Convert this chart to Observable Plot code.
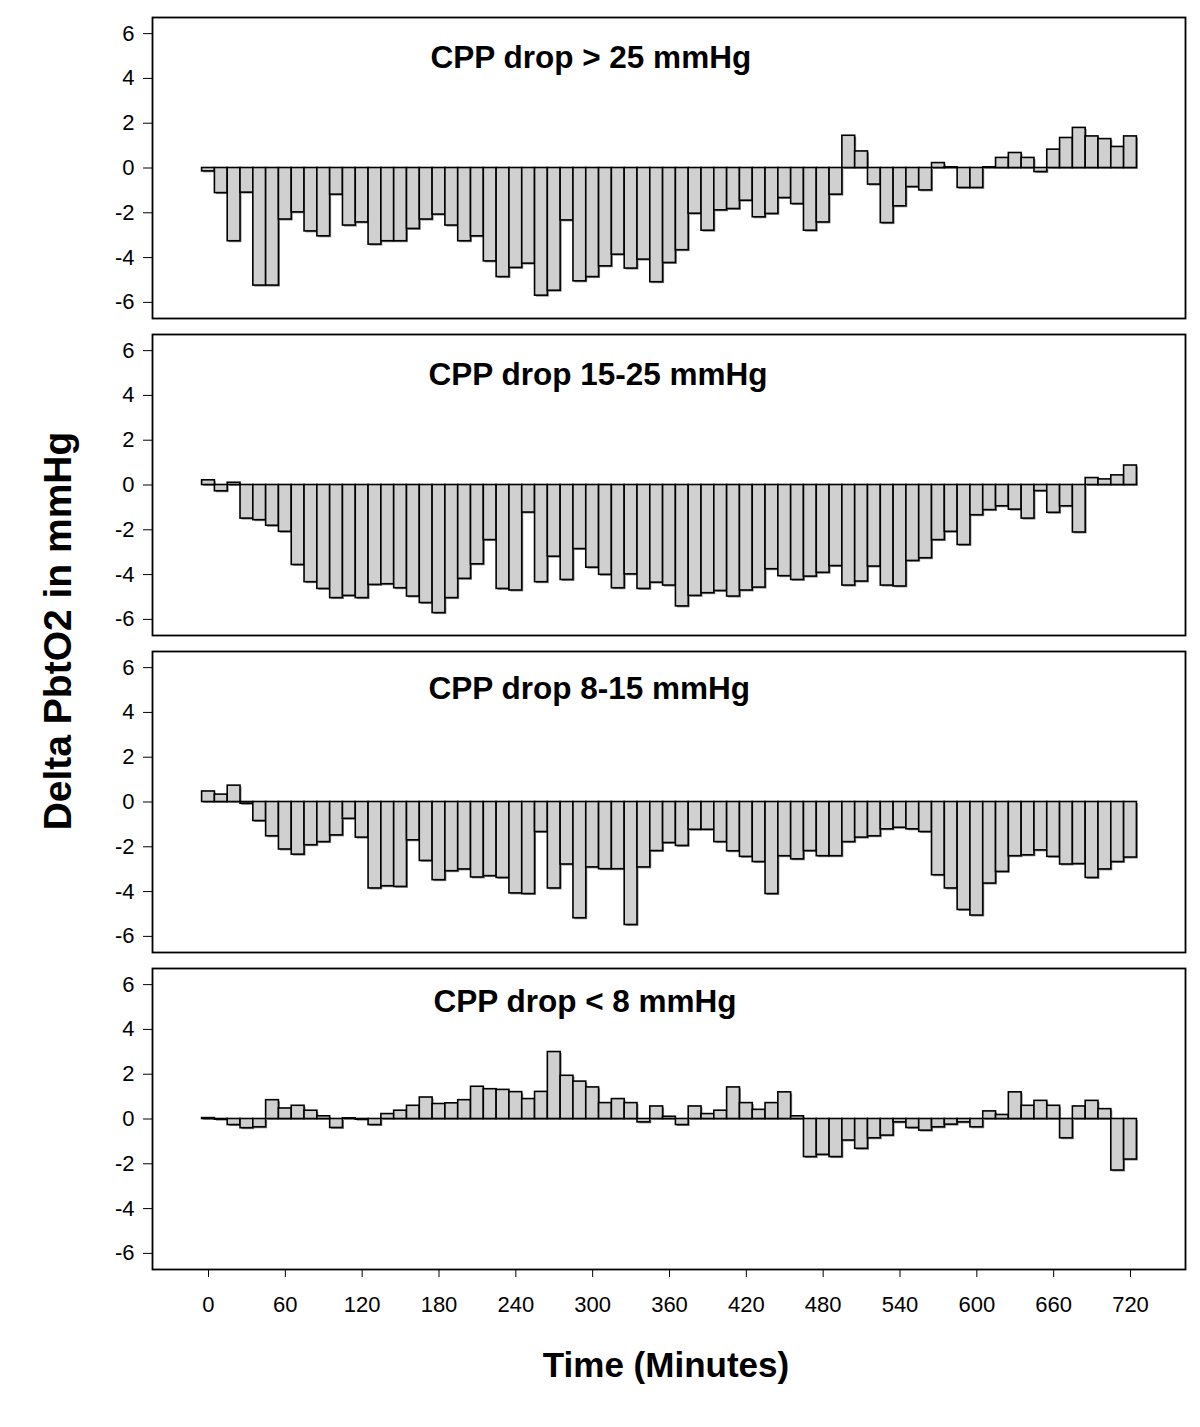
<!DOCTYPE html>
<html>
<head>
<meta charset="utf-8">
<script src="https://cdn.jsdelivr.net/npm/d3@7"></script>
<script src="https://cdn.jsdelivr.net/npm/@observablehq/plot@0.6"></script>
<style>
  body { margin: 0; background: white; }
  #wrap { position: relative; width: 1200px; height: 1427px; font-family: "Liberation Sans", Arial, sans-serif; }
  .lbl { position: absolute; font-weight: bold; white-space: nowrap; color: #000; }
</style>
</head>
<body>
<div id="wrap"></div>
<script>
// ---- data ----
const minutes = d3.range(0, 721, 10);
const panels = ["CPP drop > 25 mmHg", "CPP drop 15-25 mmHg", "CPP drop 8-15 mmHg", "CPP drop < 8 mmHg"];
const xTicks = [0, 60, 120, 180, 240, 300, 360, 420, 480, 540, 600, 660, 720];
const yTicks = [-6, -4, -2, 0, 2, 4, 6];

const dropOver25 = [
  -0.15, -1.12, -3.27, -1.10, -5.25, -5.25, -2.30, -1.98, -2.83, -3.05,
  -1.19, -2.57, -2.43, -3.42, -3.27, -3.27, -2.72, -2.30, -2.08, -2.57,
  -3.27, -3.05, -4.17, -4.87, -4.46, -4.27, -5.70, -5.48, -2.34, -5.06,
  -4.87, -4.39, -3.87, -4.49, -4.09, -5.10, -4.24, -3.67, -2.04, -2.80,
  -1.89, -1.83, -1.46, -2.20, -2.05, -1.34, -1.61, -2.80, -2.43, -1.19,
  1.44, 0.74, -0.74, -2.46, -1.71, -0.85, -1.00, 0.22, 0.03, -0.89,
  -0.89, 0.03, 0.45, 0.67, 0.45, -0.18, 0.82, 1.34, 1.79, 1.41,
  1.29, 0.94, 1.41
];
const drop15to25 = [
  0.21, -0.28, 0.10, -1.50, -1.57, -1.82, -2.09, -3.57, -4.34, -4.64,
  -5.05, -4.95, -5.05, -4.46, -4.43, -4.61, -4.98, -5.27, -5.72, -5.05,
  -4.19, -3.54, -2.46, -4.64, -4.71, -1.23, -4.34, -3.20, -4.24, -2.86,
  -3.69, -4.01, -4.61, -3.99, -4.64, -4.36, -4.49, -5.42, -4.95, -4.83,
  -4.73, -4.98, -4.71, -4.58, -3.76, -4.07, -4.24, -4.09, -3.92, -3.62,
  -4.49, -4.31, -3.64, -4.49, -4.53, -3.39, -3.27, -2.46, -2.09, -2.68,
  -1.35, -1.12, -0.95, -1.10, -1.50, -0.27, -1.24, -0.95, -2.12, 0.31,
  0.25, 0.43, 0.87
];
const drop8to15 = [
  0.47, 0.33, 0.73, -0.08, -0.85, -1.53, -2.12, -2.35, -1.93, -1.79,
  -1.49, -0.75, -1.59, -3.86, -3.76, -3.79, -1.71, -2.63, -3.49, -3.09,
  -3.01, -3.37, -3.31, -3.39, -4.08, -4.11, -1.34, -3.86, -2.79, -5.19,
  -2.92, -3.00, -3.00, -5.49, -2.92, -2.19, -1.83, -1.96, -1.24, -1.24,
  -1.79, -2.20, -2.45, -2.68, -4.11, -2.42, -2.56, -2.19, -2.42, -2.42,
  -1.79, -1.59, -1.53, -1.22, -1.15, -1.22, -1.34, -3.27, -3.86, -4.82,
  -5.07, -3.64, -3.12, -2.42, -2.38, -2.16, -2.45, -2.79, -2.77, -3.39,
  -3.01, -2.68, -2.48
];
const dropUnder8 = [
  0.04, -0.03, -0.27, -0.41, -0.37, 0.84, 0.47, 0.59, 0.37, 0.12,
  -0.40, 0.03, -0.03, -0.27, 0.22, 0.37, 0.59, 0.96, 0.67, 0.70,
  0.84, 1.44, 1.33, 1.30, 1.20, 0.89, 1.21, 2.99, 1.93, 1.67,
  1.41, 0.71, 0.89, 0.71, -0.15, 0.56, 0.10, -0.27, 0.56, 0.22,
  0.37, 1.41, 0.71, 0.41, 0.71, 1.19, 0.12, -1.70, -1.60, -1.70,
  -0.96, -1.33, -0.86, -0.74, -0.15, -0.40, -0.52, -0.37, -0.25, -0.15,
  -0.37, 0.34, 0.18, 1.19, 0.59, 0.81, 0.59, -0.86, 0.56, 0.81,
  0.44, -2.30, -1.81
];

const series = [dropOver25, drop15to25, drop8to15, dropUnder8];
const data = panels.flatMap((p, i) => series[i].map((v, j) => ({panel: p, t: minutes[j], v})));

const fmt = d => d < 0 ? "-" + Math.abs(d) : String(d);
const titleDx = [278, 276, 276, 281];
const titleDy = [40, 40, 37, 33];

const barOpts = {
  x1: d => d.t - 5, x2: d => d.t + 5, y1: 0, y2: "v", fy: "panel"
};

const chart = Plot.plot({
  width: 1200,
  height: 1427,
  marginTop: 15,
  marginLeft: 152,
  marginRight: 15,
  marginBottom: 157,
  style: {fontFamily: "'Liberation Sans', Arial, sans-serif", background: "white", color: "black"},
  x: {domain: [-43.73, 762.95]},
  y: {domain: [-6.72, 6.72]},
  fy: {domain: panels, axis: null, paddingInner: 16 / 317, paddingOuter: 0},
  marks: [
    Plot.rect(data, {...barOpts, fill: "#8a8a8a", dx: 1.5, dy: 1.5}),
    Plot.rect(data, {...barOpts, fill: "#d0d0d0", stroke: "black", strokeWidth: 1.6}),
    Plot.frame({stroke: "black", strokeWidth: 1.8}),
    Plot.axisY({ticks: yTicks, tickFormat: fmt, tickSize: 9, tickPadding: 9, fontSize: 22, label: null}),
    Plot.axisX({ticks: xTicks, tickSize: 8, tickPadding: 19, fontSize: 22, label: null}),
    ...panels.map((p, i) => Plot.text([p], {
      fy: d => d, text: d => d, frameAnchor: "top-left", dx: titleDx[i], dy: titleDy[i],
      textAnchor: "start", lineAnchor: "middle", fontWeight: "bold", fontSize: 31.5
    }))
  ]
});

const wrap = document.getElementById("wrap");
wrap.appendChild(chart);

const ylab = document.createElement("div");
ylab.className = "lbl";
ylab.textContent = "Delta PbtO2 in mmHg";
ylab.style.cssText += "left:58px;top:631px;font-size:39px;transform:translate(-50%,-50%) rotate(-90deg);";
wrap.appendChild(ylab);

const xlab = document.createElement("div");
xlab.className = "lbl";
xlab.textContent = "Time (Minutes)";
xlab.style.cssText += "left:666px;top:1365px;font-size:35px;transform:translate(-50%,-50%);";
wrap.appendChild(xlab);
</script>
</body>
</html>
